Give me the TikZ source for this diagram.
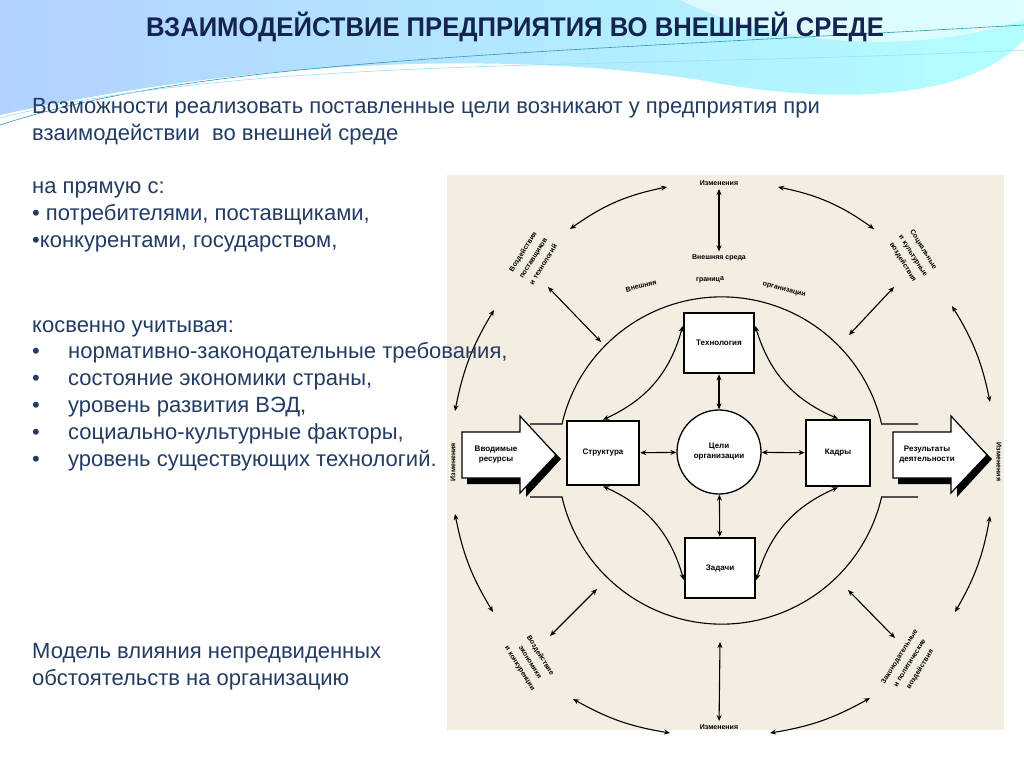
\documentclass[tikz,border=0pt]{standalone}
\usepackage{fontspec}
\setmainfont{Liberation Sans}
\usetikzlibrary{arrows.meta,shadings}
\definecolor{txt}{RGB}{35,60,100}
\definecolor{ttl}{RGB}{20,35,80}
\definecolor{beige}{RGB}{243,237,226}
\tikzset{
  dbl/.style={{Stealth[length=6pt,width=5pt]}-{Stealth[length=6pt,width=5pt]},line width=1.1pt},
  boxn/.style={draw,line width=2.6pt,fill=white,minimum width=70pt,minimum height=60pt,font=\fontsize{8}{9}\selectfont\bfseries},
  lbl/.style={font=\fontsize{7}{12}\selectfont\bfseries,align=center},
  body/.style={anchor=base west,font=\fontsize{22}{25}\selectfont,text=txt,inner sep=0pt}
}
\begin{document}
\begin{tikzpicture}[x=1pt,y=-1pt]
\useasboundingbox (0,0) rectangle (1024,768);
\fill[white] (0,0) rectangle (1024,768);
% top swoosh
\shade[left color=cyan!40!blue!30,right color=cyan!30] (0,0) -- (1024,0) -- (1024,40) .. controls (960,110) and (800,100) .. (700,80) .. controls (500,50) and (250,60) .. (0,115) -- cycle;
\fill[white,opacity=0.55] (680,0) .. controls (760,40) and (900,60) .. (1024,20) -- (1024,0) -- cycle;
\draw[cyan!50!teal,line width=0.6pt] (0,125) .. controls (200,60) and (500,55) .. (1024,25);
\draw[cyan!40,line width=0.6pt] (0,118) .. controls (250,55) and (600,70) .. (1024,50);
% title
\node[font=\fontsize{27}{30}\selectfont\bfseries,text=ttl,xscale=0.95] (title) at (515,27) {ВЗАИМОДЕЙСТВИЕ ПРЕДПРИЯТИЯ ВО ВНЕШНЕЙ СРЕДЕ};
% diagram
\fill[beige] (447,175) rectangle (1004,730);
% boundary arcs
\draw[line width=1.1pt] (530,424) -- (562,424) arc[start angle=193,end angle=347,radius=164] -- (918,424);
\draw[line width=1.1pt] (530,497) -- (562,497) arc[start angle=167,end angle=13,radius=164] -- (918,497);
\node[lbl,rotate=14] (bl1) at (641,286) {Внешняя};
\node[lbl,rotate=1] (bl2) at (710,280) {граница};
\node[lbl,rotate=-15] (bl3) at (784,290) {организации};
% center
\node[draw,circle,line width=1.3pt,fill=white,minimum size=84pt,align=center,font=\fontsize{8}{10}\selectfont\bfseries] (goal) at (719,452) {Цели\\организации};
\node[boxn] (tech) at (719,343) {Технология};
\node[boxn,minimum width=72pt,minimum height=64pt] (str) at (603,453) {Структура};
\node[boxn,minimum width=64pt,minimum height=66pt] (kad) at (838,453) {Кадры};
\node[boxn] (zad) at (720,568) {Задачи};
\draw[dbl] (tech) -- (goal);
\draw[dbl] (goal) -- (zad);
\draw[dbl] (str) -- (goal);
\draw[dbl] (goal) -- (kad);
\draw[dbl] (tech.west|-0,326) to[bend left=25] (str.north);
\draw[dbl] (tech.east|-0,326) to[bend right=25] (kad.north);
\draw[dbl] (str.south) to[bend left=25] (zad.west|-0,580);
\draw[dbl] (kad.south) to[bend right=25] (zad.east|-0,580);
% block arrows
\foreach \n/\x/\t in {inA/462/{Вводимые\\ресурсы},outA/893/{Результаты\\деятельности}}{
  \fill[black] (\x+5,438) -- (\x+62,438) -- (\x+62,422) -- (\x+99,459) -- (\x+64,497) -- (\x+64,484) -- (\x+5,484) -- cycle;
  \draw[line width=1.2pt,fill=white] (\x,432) -- (\x+58,432) -- (\x+58,416) -- (\x+94,455) -- (\x+58,493) -- (\x+58,478) -- (\x,478) -- cycle;
  \node[align=center,font=\fontsize{8}{10}\selectfont\bfseries] (\n) at (\x+34,455) {\t};
}
% outer labels
\node[lbl] (izT) at (719,183) {Изменения};
\node[lbl] (izB) at (719,727) {Изменения};
\node[lbl,rotate=90] (izL) at (453,462) {Изменения};
\node[lbl,rotate=-90] (izR) at (999,462) {Изменения};
\node[lbl] (env) at (719,258) {Внешняя среда};
\node[lbl,rotate=58] (sup) at (533,258) {Воздействия\\поставщиков\\и технологий};
\node[lbl,rotate=-58] (soc) at (913,256) {Социальные\\и культурные\\воздействия};
\node[lbl,rotate=-58] (eco) at (530,662) {Воздействие\\экономики\\и конкуренции};
\node[lbl,rotate=58] (law) at (910,663) {Законодательные\\и политические\\воздействия};
% outer arrows
\draw[dbl] (izT) -- (env);
\draw[dbl] (667,187) to[bend right=12] (570,229);
\draw[dbl] (778,187) to[bend left=12] (874,229);
\draw[dbl] (548,287) -- (601,342);
\draw[dbl] (894,287) -- (849,335);
\draw[dbl] (494,310) to[bend right=10] (455,411);
\draw[dbl] (952,306) to[bend left=10] (990,402);
\draw[dbl] (455,514) to[bend right=10] (493,612);
\draw[dbl] (990,516) to[bend left=10] (955,612);
\draw[dbl] (597,589) -- (550,636);
\draw[dbl] (848,590) -- (895,638);
\draw[dbl] (720,642) -- (izB);
\draw[dbl] (573,699) to[bend right=10] (670,733);
\draw[dbl] (770,733) to[bend right=10] (870,698);
% text
\node[body] (t1) at (32,113) {Возможности реализовать поставленные цели возникают у предприятия при};
\node[body] (t2) at (32,140) {взаимодействии\ \ во внешней среде};
\node[body] (t3) at (32,193) {на прямую с:};
\node[body] (t4) at (32,220) {• потребителями, поставщиками,};
\node[body] (t5) at (32,247) {•конкурентами, государством,};
\node[body] (t6) at (32,332) {косвенно учитывая:};
\foreach \y/\s [count=\i] in {358/{нормативно-законодательные требования,},385/{состояние экономики страны,},412/{уровень развития ВЭД,},439/{социально-культурные факторы,},466/{уровень существующих технологий.}}{
  \node[body] (b\i) at (32,\y) {•};
  \node[body] (c\i) at (68,\y) {\s};
}
\node[body] (m1) at (32,658) {Модель влияния непредвиденных};
\node[body] (m2) at (32,685) {обстоятельств на организацию};
\end{tikzpicture}
\end{document}
